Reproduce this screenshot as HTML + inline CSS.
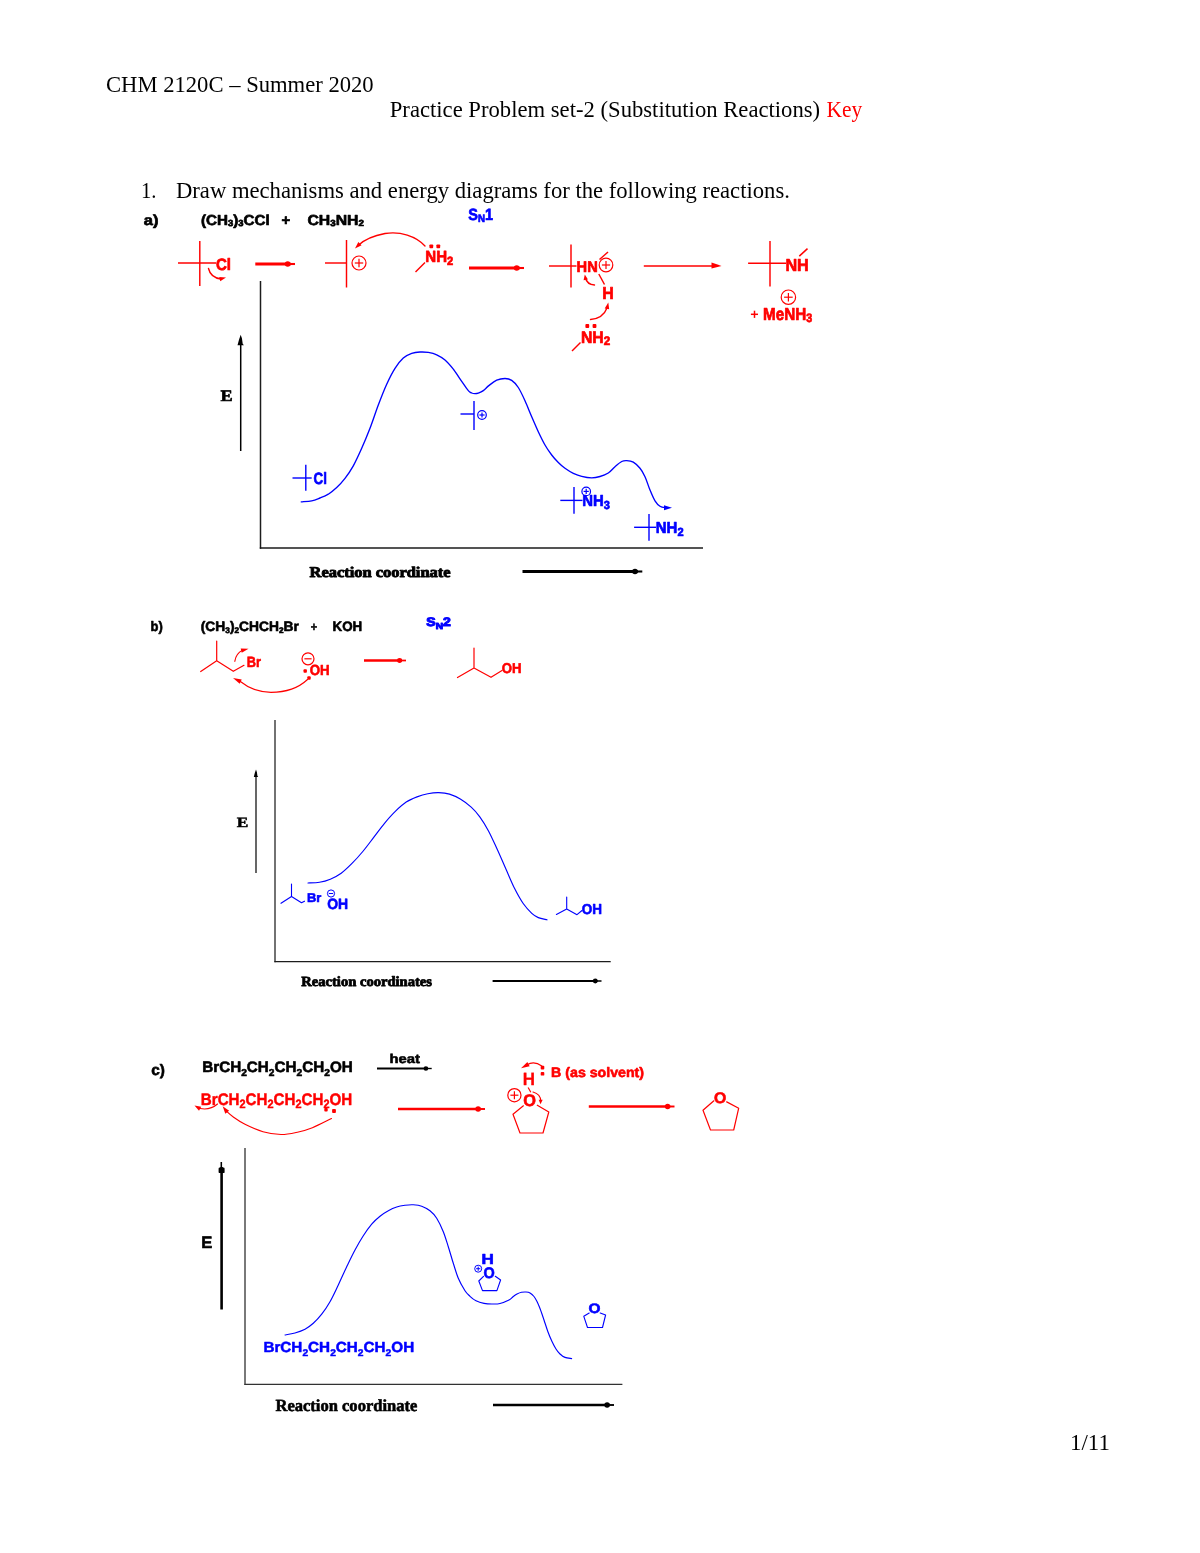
<!DOCTYPE html>
<html><head><meta charset="utf-8"><title>CHM 2120C Practice Problem set-2 Key</title><style>html,body{margin:0;padding:0;background:#fff}body{width:1200px;height:1553px;overflow:hidden}svg{display:block}text{white-space:pre}</style></head><body>
<svg width="1200" height="1553" viewBox="0 0 1200 1553">
<defs><filter id="bl" x="0" y="0" width="100%" height="100%" filterUnits="userSpaceOnUse"><feGaussianBlur stdDeviation="0.45"/></filter></defs>
<rect width="1200" height="1553" fill="#fff"/>
<g id="hdr" opacity="0.999">
<text id="t0" transform="translate(106.01 92.00) scale(0.9925 1)" font-family='"Liberation Serif", serif' font-weight="normal" font-size="22.80" fill="#000000">CHM 2120C – Summer 2020</text>
<text id="t1" transform="translate(389.75 116.50) scale(0.9943 1)" font-family='"Liberation Serif", serif' font-weight="normal" font-size="22.80" fill="#000000">Practice Problem set-2 (Substitution Reactions)</text>
<text id="t2" transform="translate(826.49 116.50) scale(0.9405 1)" font-family='"Liberation Serif", serif' font-weight="normal" font-size="22.80" fill="#ff0000">Key</text>
<text id="t3" transform="translate(140.88 197.50) scale(0.9111 1)" font-family='"Liberation Serif", serif' font-weight="normal" font-size="22.80" fill="#000000">1.</text>
<text id="t4" transform="translate(175.95 197.50) scale(0.9934 1)" font-family='"Liberation Serif", serif' font-weight="normal" font-size="22.80" fill="#000000">Draw mechanisms and energy diagrams for the following reactions.</text>
<text id="t5" transform="translate(1069.99 1449.50) scale(1.0069 1)" font-family='"Liberation Serif", serif' font-weight="normal" font-size="22.80" fill="#000000">1/11</text>
</g>
<g id="dia" filter="url(#bl)">
<line x1="178.0" y1="263.0" x2="216.0" y2="263.0" stroke="#ff0000" stroke-width="1.45" stroke-linecap="butt"/>
<line x1="199.8" y1="241.0" x2="199.8" y2="286.0" stroke="#ff0000" stroke-width="1.45" stroke-linecap="butt"/>
<path d="M208.5 268.5 Q210.5 277.5 221 279" stroke="#ff0000" stroke-width="1.40" fill="none" stroke-linejoin="round" stroke-linecap="round"/>
<path transform="translate(226.0 277.6) rotate(-14.0)" d="M0 0 L-6.5 -2.2 L-6.5 2.2 Z" fill="#ff0000"/>
<line x1="255.3" y1="264.0" x2="290.5" y2="264.0" stroke="#ff0000" stroke-width="2.90" stroke-linecap="butt"/>
<line x1="290.0" y1="264.0" x2="295.0" y2="264.0" stroke="#ff0000" stroke-width="2.09" stroke-linecap="butt"/>
<ellipse cx="287.7" cy="264.0" rx="2.90" ry="2.80" fill="#ff0000"/>
<line x1="325.0" y1="263.0" x2="346.5" y2="263.0" stroke="#ff0000" stroke-width="1.45" stroke-linecap="butt"/>
<line x1="346.5" y1="240.0" x2="346.5" y2="287.5" stroke="#ff0000" stroke-width="1.45" stroke-linecap="butt"/>
<circle cx="359.0" cy="263.0" r="7.0" stroke="#ff0000" stroke-width="1.20" fill="none"/>
<line x1="354.8" y1="263.0" x2="363.2" y2="263.0" stroke="#ff0000" stroke-width="1.20" stroke-linecap="butt"/>
<line x1="359.0" y1="258.8" x2="359.0" y2="267.2" stroke="#ff0000" stroke-width="1.20" stroke-linecap="butt"/>
<path d="M425 246 C416 236 400 231 385 233.5 C374 235.5 364 240 358 245.5" stroke="#ff0000" stroke-width="1.30" fill="none" stroke-linejoin="round" stroke-linecap="round"/>
<path transform="translate(355.0 248.5) rotate(135.0)" d="M0 0 L-7.0 -2.3 L-7.0 2.3 Z" fill="#ff0000"/>
<rect x="429.4" y="244.4" width="3.8" height="3.8" rx="0.9" fill="#ff0000"/>
<rect x="436.4" y="244.4" width="3.8" height="3.8" rx="0.9" fill="#ff0000"/>
<line x1="425.0" y1="262.5" x2="415.5" y2="272.0" stroke="#ff0000" stroke-width="1.45" stroke-linecap="butt"/>
<line x1="469.0" y1="268.0" x2="519.5" y2="268.0" stroke="#ff0000" stroke-width="2.90" stroke-linecap="butt"/>
<line x1="519.0" y1="268.0" x2="524.0" y2="268.0" stroke="#ff0000" stroke-width="2.09" stroke-linecap="butt"/>
<ellipse cx="516.7" cy="268.0" rx="2.90" ry="2.80" fill="#ff0000"/>
<line x1="549.0" y1="266.0" x2="576.5" y2="266.0" stroke="#ff0000" stroke-width="1.45" stroke-linecap="butt"/>
<line x1="571.0" y1="244.5" x2="571.0" y2="287.5" stroke="#ff0000" stroke-width="1.45" stroke-linecap="butt"/>
<circle cx="606.0" cy="265.0" r="6.8" stroke="#ff0000" stroke-width="1.20" fill="none"/>
<line x1="601.9" y1="265.0" x2="610.1" y2="265.0" stroke="#ff0000" stroke-width="1.20" stroke-linecap="butt"/>
<line x1="606.0" y1="260.9" x2="606.0" y2="269.1" stroke="#ff0000" stroke-width="1.20" stroke-linecap="butt"/>
<line x1="599.5" y1="259.5" x2="608.0" y2="252.0" stroke="#ff0000" stroke-width="1.45" stroke-linecap="butt"/>
<line x1="598.8" y1="274.0" x2="604.5" y2="284.5" stroke="#ff0000" stroke-width="1.45" stroke-linecap="butt"/>
<path d="M594.5 285 Q587 284.5 585.5 278" stroke="#ff0000" stroke-width="1.40" fill="none" stroke-linejoin="round" stroke-linecap="round"/>
<path transform="translate(584.8 274.5) rotate(-100.0)" d="M0 0 L-5.5 -2.2 L-5.5 2.2 Z" fill="#ff0000"/>
<path d="M590.5 319.5 Q603 318.5 607 308" stroke="#ff0000" stroke-width="1.40" fill="none" stroke-linejoin="round" stroke-linecap="round"/>
<path transform="translate(608.3 302.5) rotate(-78.0)" d="M0 0 L-6.5 -2.3 L-6.5 2.3 Z" fill="#ff0000"/>
<rect x="585.4" y="324.1" width="3.8" height="3.8" rx="0.9" fill="#ff0000"/>
<rect x="592.6" y="324.1" width="3.8" height="3.8" rx="0.9" fill="#ff0000"/>
<line x1="580.5" y1="342.5" x2="572.0" y2="351.0" stroke="#ff0000" stroke-width="1.45" stroke-linecap="butt"/>
<line x1="643.8" y1="266.0" x2="717.5" y2="266.0" stroke="#ff0000" stroke-width="1.50" stroke-linecap="butt"/>
<path d="M721.5 266.0 L717.5 264.4 L711.5 262.6 L711.5 268.6 Z" fill="#ff0000"/>
<line x1="748.1" y1="263.3" x2="786.0" y2="263.3" stroke="#ff0000" stroke-width="1.45" stroke-linecap="butt"/>
<line x1="770.0" y1="241.1" x2="770.0" y2="286.5" stroke="#ff0000" stroke-width="1.45" stroke-linecap="butt"/>
<line x1="799.3" y1="256.1" x2="807.5" y2="248.6" stroke="#ff0000" stroke-width="1.45" stroke-linecap="butt"/>
<circle cx="788.4" cy="297.2" r="7.2" stroke="#ff0000" stroke-width="1.20" fill="none"/>
<line x1="784.1" y1="297.2" x2="792.7" y2="297.2" stroke="#ff0000" stroke-width="1.20" stroke-linecap="butt"/>
<line x1="788.4" y1="292.9" x2="788.4" y2="301.5" stroke="#ff0000" stroke-width="1.20" stroke-linecap="butt"/>
<line x1="750.9" y1="314.3" x2="758.0" y2="314.3" stroke="#ff0000" stroke-width="1.50" stroke-linecap="butt"/>
<line x1="754.5" y1="310.7" x2="754.5" y2="317.9" stroke="#ff0000" stroke-width="1.50" stroke-linecap="butt"/>
<line x1="260.5" y1="281.0" x2="260.5" y2="548.8" stroke="#1a1a1a" stroke-width="1.50" stroke-linecap="butt"/>
<line x1="259.8" y1="548.0" x2="703.0" y2="548.0" stroke="#1a1a1a" stroke-width="1.50" stroke-linecap="butt"/>
<line x1="240.7" y1="451.0" x2="240.7" y2="337.7" stroke="#000000" stroke-width="1.50" stroke-linecap="butt"/>
<path d="M240.7 334.7 L242.0 338.7 L242.7 343.7 L243.9 345.3 L237.5 345.3 L239.0 339.7 Z" fill="#000000"/>
<line x1="522.5" y1="571.5" x2="637.8" y2="571.5" stroke="#000000" stroke-width="2.90" stroke-linecap="butt"/>
<line x1="637.3" y1="571.5" x2="642.3" y2="571.5" stroke="#000000" stroke-width="2.09" stroke-linecap="butt"/>
<ellipse cx="635.0" cy="571.5" rx="2.90" ry="2.80" fill="#000000"/>
<path d="M301.3 501.9 C303.0 501.7 308.6 501.4 311.7 500.8 C314.8 500.2 317.2 499.1 320.0 498.0 C322.8 496.9 325.5 495.9 328.3 494.2 C331.1 492.4 333.9 490.1 336.7 487.5 C339.5 484.9 342.2 481.9 345.0 478.3 C347.8 474.7 350.5 470.8 353.3 465.8 C356.1 460.8 358.9 454.6 361.7 448.3 C364.5 442.1 367.2 435.5 370.0 428.3 C372.8 421.1 375.5 412.4 378.3 405.0 C381.1 397.6 383.9 390.3 386.7 384.2 C389.5 378.1 392.2 372.7 395.0 368.3 C397.8 363.9 400.5 360.5 403.3 358.0 C406.1 355.5 408.9 354.3 411.7 353.3 C414.5 352.3 417.2 352.1 420.0 352.0 C422.8 351.9 425.5 351.9 428.3 352.4 C431.1 352.9 433.9 353.5 436.7 354.8 C439.5 356.1 442.2 357.6 445.0 360.0 C447.8 362.4 450.5 365.6 453.3 369.2 C456.1 372.8 459.2 377.7 461.7 381.3 C464.2 384.9 466.6 388.7 468.3 390.6 C470.0 392.6 470.6 392.5 471.7 393.0 C472.8 393.5 473.9 393.6 475.0 393.6 C476.1 393.6 476.9 393.6 478.3 393.1 C479.7 392.6 481.6 391.9 483.3 390.6 C485.1 389.4 486.6 387.3 488.8 385.6 C491.0 383.9 494.0 381.4 496.7 380.2 C499.4 379.0 502.5 378.5 505.0 378.5 C507.5 378.5 509.5 378.9 511.7 380.4 C513.9 381.9 516.1 384.1 518.3 387.5 C520.5 390.9 522.8 395.9 525.0 400.8 C527.2 405.7 529.5 411.6 531.7 416.7 C533.9 421.8 536.1 427.0 538.3 431.7 C540.5 436.4 542.8 441.1 545.0 445.0 C547.2 448.9 549.5 452.1 551.7 455.0 C553.9 457.9 556.1 460.3 558.3 462.5 C560.5 464.7 562.5 466.5 565.0 468.3 C567.5 470.1 570.5 472.0 573.3 473.3 C576.1 474.6 578.6 475.6 581.7 476.3 C584.8 477.1 588.7 477.8 591.7 477.8 C594.8 477.8 597.2 477.3 600.0 476.5 C602.8 475.7 605.8 474.6 608.3 473.0 C610.8 471.4 612.8 468.6 615.0 466.7 C617.2 464.8 619.8 462.5 621.7 461.5 C623.7 460.5 624.8 460.5 626.7 460.6 C628.6 460.7 631.1 460.9 633.3 462.2 C635.5 463.5 638.0 465.9 640.0 468.3 C642.0 470.7 643.3 473.1 645.0 476.7 C646.7 480.3 648.3 486.0 650.0 490.0 C651.7 494.0 653.3 498.1 655.0 500.8 C656.7 503.5 658.2 505.1 660.0 506.3 C661.8 507.5 665.0 507.6 666.0 507.8" stroke="#0000ff" stroke-width="1.35" fill="none" stroke-linejoin="round" stroke-linecap="round"/>
<path transform="translate(672.0 507.8) rotate(0.0)" d="M0 0 L-8.0 -2.5 L-8.0 2.5 Z" fill="#0000ff"/>
<line x1="292.5" y1="478.0" x2="311.7" y2="478.0" stroke="#0000ff" stroke-width="1.40" stroke-linecap="butt"/>
<line x1="305.8" y1="464.7" x2="305.8" y2="490.8" stroke="#0000ff" stroke-width="1.40" stroke-linecap="butt"/>
<line x1="460.5" y1="414.0" x2="474.0" y2="414.0" stroke="#0000ff" stroke-width="1.40" stroke-linecap="butt"/>
<line x1="474.0" y1="401.0" x2="474.0" y2="430.0" stroke="#0000ff" stroke-width="1.40" stroke-linecap="butt"/>
<circle cx="482.0" cy="415.0" r="4.3" stroke="#0000ff" stroke-width="1.20" fill="none"/>
<line x1="479.4" y1="415.0" x2="484.6" y2="415.0" stroke="#0000ff" stroke-width="1.20" stroke-linecap="butt"/>
<line x1="482.0" y1="412.4" x2="482.0" y2="417.6" stroke="#0000ff" stroke-width="1.20" stroke-linecap="butt"/>
<line x1="560.3" y1="500.4" x2="582.5" y2="500.4" stroke="#0000ff" stroke-width="1.40" stroke-linecap="butt"/>
<line x1="574.0" y1="487.0" x2="574.0" y2="513.8" stroke="#0000ff" stroke-width="1.40" stroke-linecap="butt"/>
<circle cx="586.2" cy="491.4" r="4.3" stroke="#0000ff" stroke-width="1.20" fill="none"/>
<line x1="583.6" y1="491.4" x2="588.8" y2="491.4" stroke="#0000ff" stroke-width="1.20" stroke-linecap="butt"/>
<line x1="586.2" y1="488.8" x2="586.2" y2="494.0" stroke="#0000ff" stroke-width="1.20" stroke-linecap="butt"/>
<line x1="634.1" y1="527.3" x2="656.0" y2="527.3" stroke="#0000ff" stroke-width="1.40" stroke-linecap="butt"/>
<line x1="649.0" y1="514.0" x2="649.0" y2="540.7" stroke="#0000ff" stroke-width="1.40" stroke-linecap="butt"/>
<path d="M216.7 641 L216.7 660.7 M216.7 660.7 L200.7 671.5 M216.7 660.7 L233.3 671.3 L244 665.3" stroke="#ff0000" stroke-width="1.20" fill="none" stroke-linejoin="round" stroke-linecap="round"/>
<path d="M234.8 661.3 Q236 653.5 242.5 650.3" stroke="#ff0000" stroke-width="1.15" fill="none" stroke-linejoin="round" stroke-linecap="round"/>
<path transform="translate(248.5 648.8) rotate(-14.0)" d="M0 0 L-7.5 -2.2 L-7.5 2.2 Z" fill="#ff0000"/>
<circle cx="308.0" cy="658.8" r="6.0" stroke="#ff0000" stroke-width="1.20" fill="none"/>
<line x1="304.4" y1="658.8" x2="311.6" y2="658.8" stroke="#ff0000" stroke-width="1.20" stroke-linecap="butt"/>
<rect x="303.5" y="669.3" width="3.4" height="3.4" rx="0.9" fill="#ff0000"/>
<rect x="307.3" y="676.3" width="3.4" height="3.4" rx="0.9" fill="#ff0000"/>
<path d="M307.5 679.5 C299 687.5 286 692.3 271 692.3 C260 692.3 249 688.5 240 681.3" stroke="#ff0000" stroke-width="1.15" fill="none" stroke-linejoin="round" stroke-linecap="round"/>
<path transform="translate(233.0 678.0) rotate(-155.0)" d="M0 0 L-8.5 -2.4 L-8.5 2.4 Z" fill="#ff0000"/>
<line x1="364.0" y1="660.5" x2="402.0" y2="660.5" stroke="#ff0000" stroke-width="2.40" stroke-linecap="butt"/>
<line x1="401.6" y1="660.5" x2="406.0" y2="660.5" stroke="#ff0000" stroke-width="1.73" stroke-linecap="butt"/>
<ellipse cx="399.6" cy="660.5" rx="2.55" ry="2.46" fill="#ff0000"/>
<path d="M474 648 L474 668 M474 668 L457.5 677.5 M474 668 L491 677.3 L502 670.5" stroke="#ff0000" stroke-width="1.20" fill="none" stroke-linejoin="round" stroke-linecap="round"/>
<line x1="275.0" y1="720.0" x2="275.0" y2="962.2" stroke="#1a1a1a" stroke-width="1.25" stroke-linecap="butt"/>
<line x1="274.4" y1="961.6" x2="610.7" y2="961.6" stroke="#1a1a1a" stroke-width="1.25" stroke-linecap="butt"/>
<line x1="256.0" y1="873.0" x2="256.0" y2="772.5" stroke="#000000" stroke-width="1.20" stroke-linecap="butt"/>
<path d="M256.0 769.5 L256.9 772.3 L257.4 775.8 L258.2 776.9 L253.8 776.9 L254.8 773.0 Z" fill="#000000"/>
<line x1="492.6" y1="981.0" x2="597.7" y2="981.0" stroke="#000000" stroke-width="2.10" stroke-linecap="butt"/>
<line x1="597.2" y1="981.0" x2="601.5" y2="981.0" stroke="#000000" stroke-width="1.51" stroke-linecap="butt"/>
<ellipse cx="595.3" cy="981.0" rx="2.46" ry="2.38" fill="#000000"/>
<path d="M308.0 883.0 C309.9 882.9 315.8 882.9 319.5 882.3 C323.2 881.7 326.7 880.7 330.3 879.2 C333.9 877.7 337.6 875.8 341.2 873.2 C344.8 870.6 348.4 867.0 352.0 863.4 C355.6 859.8 359.2 855.8 362.8 851.5 C366.4 847.2 370.1 842.1 373.7 837.4 C377.3 832.7 380.9 827.6 384.5 823.3 C388.1 819.0 391.7 814.9 395.3 811.4 C398.9 807.9 402.6 804.5 406.2 802.1 C409.8 799.7 413.4 798.3 417.0 796.9 C420.6 795.5 424.2 794.4 427.8 793.7 C431.4 793.0 435.1 792.5 438.7 792.6 C442.3 792.7 445.9 793.0 449.5 794.1 C453.1 795.2 456.7 796.9 460.3 799.1 C463.9 801.3 467.9 804.2 471.2 807.1 C474.4 810.0 476.9 812.8 479.8 816.8 C482.7 820.8 485.6 825.5 488.5 830.9 C491.4 836.3 494.3 843.0 497.2 849.3 C500.1 855.6 502.9 862.3 505.8 868.8 C508.7 875.3 511.6 882.5 514.5 888.3 C517.4 894.1 520.3 899.3 523.2 903.5 C526.1 907.7 529.3 910.9 531.8 913.3 C534.3 915.6 535.8 916.5 538.3 917.6 C540.8 918.7 545.5 919.4 547.0 919.8" stroke="#0000ff" stroke-width="1.15" fill="none" stroke-linejoin="round" stroke-linecap="round"/>
<path d="M291.5 884 L291.5 896.5 M291.5 896.5 L281 903.3 M291.5 896.5 L301.5 902.8 L304.5 901.2" stroke="#0000ff" stroke-width="1.10" fill="none" stroke-linejoin="round" stroke-linecap="round"/>
<circle cx="331.0" cy="893.5" r="3.6" stroke="#0000ff" stroke-width="1.00" fill="none"/>
<line x1="328.8" y1="893.5" x2="333.2" y2="893.5" stroke="#0000ff" stroke-width="1.00" stroke-linecap="butt"/>
<path d="M566.7 897 L566.7 909 M566.7 909 L556.4 914.5 M566.7 909 L577 914.7 L582 910.5" stroke="#0000ff" stroke-width="1.10" fill="none" stroke-linejoin="round" stroke-linecap="round"/>
<line x1="377.0" y1="1068.5" x2="428.1" y2="1068.5" stroke="#000000" stroke-width="1.90" stroke-linecap="butt"/>
<line x1="427.7" y1="1068.5" x2="431.7" y2="1068.5" stroke="#000000" stroke-width="1.37" stroke-linecap="butt"/>
<ellipse cx="425.9" cy="1068.5" rx="2.32" ry="2.24" fill="#000000"/>
<rect x="324.3" y="1108.1" width="3.4" height="3.4" rx="0.9" fill="#ff0000"/>
<rect x="332.1" y="1109.1" width="3.8" height="3.8" rx="0.9" fill="#ff0000"/>
<path d="M217.5 1104 Q210 1110.5 200 1108.5" stroke="#ff0000" stroke-width="1.15" fill="none" stroke-linejoin="round" stroke-linecap="round"/>
<path transform="translate(194.5 1105.5) rotate(-150.0)" d="M0 0 L-6.5 -2.2 L-6.5 2.2 Z" fill="#ff0000"/>
<path d="M331.5 1118.5 C328.3 1120.0 318.1 1125.4 312.4 1127.7 C306.7 1130.0 302.6 1131.1 297.4 1132.2 C292.2 1133.3 286.7 1134.6 281.0 1134.5 C275.3 1134.4 269.0 1133.4 263.0 1131.7 C257.0 1130.0 250.0 1126.8 245.0 1124.3 C240.0 1121.8 236.1 1119.0 233.0 1116.8 C229.9 1114.6 227.6 1112.2 226.5 1111.3" stroke="#ff0000" stroke-width="1.15" fill="none" stroke-linejoin="round" stroke-linecap="round"/>
<path transform="translate(222.7 1106.3) rotate(-127.0)" d="M0 0 L-7.5 -2.4 L-7.5 2.4 Z" fill="#ff0000"/>
<line x1="398.0" y1="1109.0" x2="480.7" y2="1109.0" stroke="#ff0000" stroke-width="2.70" stroke-linecap="butt"/>
<line x1="480.2" y1="1109.0" x2="485.0" y2="1109.0" stroke="#ff0000" stroke-width="1.94" stroke-linecap="butt"/>
<ellipse cx="478.1" cy="1109.0" rx="2.75" ry="2.66" fill="#ff0000"/>
<circle cx="514.4" cy="1095.2" r="6.6" stroke="#ff0000" stroke-width="1.20" fill="none"/>
<line x1="510.4" y1="1095.2" x2="518.4" y2="1095.2" stroke="#ff0000" stroke-width="1.20" stroke-linecap="butt"/>
<line x1="514.4" y1="1091.3" x2="514.4" y2="1099.2" stroke="#ff0000" stroke-width="1.20" stroke-linecap="butt"/>
<line x1="528.1" y1="1087.5" x2="530.8" y2="1092.2" stroke="#ff0000" stroke-width="1.20" stroke-linecap="butt"/>
<path d="M523.4 1105.8 L513 1114.2 L520 1133 L543 1133 L548.8 1112 L537.3 1105.2" stroke="#ff0000" stroke-width="1.20" fill="none" stroke-linejoin="round" stroke-linecap="round"/>
<path d="M533 1092 Q540.5 1094 540.8 1101" stroke="#ff0000" stroke-width="1.15" fill="none" stroke-linejoin="round" stroke-linecap="round"/>
<path transform="translate(540.5 1104.3) rotate(92.0)" d="M0 0 L-4.5 -2.0 L-4.5 2.0 Z" fill="#ff0000"/>
<rect x="540.7" y="1065.8" width="3.6" height="3.6" rx="0.9" fill="#ff0000"/>
<rect x="540.7" y="1072.0" width="3.6" height="3.6" rx="0.9" fill="#ff0000"/>
<path d="M541.8 1066 Q534 1060.3 527 1064.8" stroke="#ff0000" stroke-width="1.15" fill="none" stroke-linejoin="round" stroke-linecap="round"/>
<path transform="translate(521.0 1068.2) rotate(152.0)" d="M0 0 L-8.5 -2.4 L-8.5 2.4 Z" fill="#ff0000"/>
<line x1="588.8" y1="1106.5" x2="670.2" y2="1106.5" stroke="#ff0000" stroke-width="2.70" stroke-linecap="butt"/>
<line x1="669.8" y1="1106.5" x2="674.5" y2="1106.5" stroke="#ff0000" stroke-width="1.94" stroke-linecap="butt"/>
<ellipse cx="667.6" cy="1106.5" rx="2.75" ry="2.66" fill="#ff0000"/>
<path d="M713.9 1100.8 L703 1110.2 L710.5 1130 L733.7 1130 L738.7 1108.2 L726.7 1101.9" stroke="#ff0000" stroke-width="1.20" fill="none" stroke-linejoin="round" stroke-linecap="round"/>
<line x1="245.0" y1="1148.0" x2="245.0" y2="1385.0" stroke="#333" stroke-width="1.30" stroke-linecap="butt"/>
<line x1="244.4" y1="1384.3" x2="622.4" y2="1384.3" stroke="#333" stroke-width="1.30" stroke-linecap="butt"/>
<line x1="221.6" y1="1309.5" x2="221.6" y2="1167.0" stroke="#000000" stroke-width="2.60" stroke-linecap="butt"/>
<line x1="221.3" y1="1168.0" x2="221.3" y2="1162.0" stroke="#000000" stroke-width="1.56" stroke-linecap="butt"/>
<rect x="218.6" y="1167.5" width="6" height="5.6" rx="1.2" fill="#000000"/>
<line x1="493.0" y1="1405.0" x2="609.7" y2="1405.0" stroke="#000000" stroke-width="2.60" stroke-linecap="butt"/>
<line x1="609.2" y1="1405.0" x2="614.0" y2="1405.0" stroke="#000000" stroke-width="1.87" stroke-linecap="butt"/>
<ellipse cx="607.1" cy="1405.0" rx="2.75" ry="2.66" fill="#000000"/>
<path d="M285.0 1335.0 C286.7 1334.7 291.7 1334.0 295.0 1333.0 C298.3 1332.0 301.9 1330.8 305.0 1329.2 C308.1 1327.6 310.5 1325.8 313.3 1323.3 C316.1 1320.8 318.9 1317.8 321.7 1314.2 C324.5 1310.6 327.2 1306.6 330.0 1301.7 C332.8 1296.8 335.5 1290.8 338.3 1285.0 C341.1 1279.2 343.9 1272.5 346.7 1266.7 C349.5 1260.9 352.2 1255.2 355.0 1250.0 C357.8 1244.8 360.5 1240.1 363.3 1235.8 C366.1 1231.5 368.9 1227.5 371.7 1224.2 C374.5 1221.0 377.2 1218.5 380.0 1216.3 C382.8 1214.1 385.5 1212.3 388.3 1210.8 C391.1 1209.2 393.9 1207.9 396.7 1207.0 C399.5 1206.1 402.2 1205.7 405.0 1205.3 C407.8 1204.9 410.5 1204.6 413.3 1204.8 C416.1 1205.0 418.9 1205.2 421.7 1206.2 C424.5 1207.2 427.5 1208.8 430.0 1210.8 C432.5 1212.8 434.5 1214.8 436.7 1218.3 C438.9 1221.8 441.4 1227.0 443.3 1231.7 C445.2 1236.4 446.6 1241.4 448.3 1246.7 C450.0 1252.0 451.6 1258.0 453.3 1263.3 C455.0 1268.6 456.4 1273.7 458.3 1278.3 C460.2 1282.9 463.1 1287.8 465.0 1290.8 C466.9 1293.8 468.2 1294.6 470.0 1296.3 C471.8 1298.0 473.7 1299.6 476.0 1300.8 C478.3 1302.0 481.3 1302.9 484.0 1303.4 C486.7 1303.9 489.3 1304.0 492.0 1304.0 C494.7 1304.0 497.2 1304.2 500.0 1303.5 C502.8 1302.8 506.8 1301.1 509.0 1300.0 C511.2 1298.9 511.7 1297.7 513.0 1296.7 C514.3 1295.7 515.6 1294.7 517.0 1294.0 C518.4 1293.3 520.0 1292.6 521.5 1292.3 C523.0 1292.0 524.6 1291.9 526.0 1292.0 C527.4 1292.1 528.7 1292.2 530.0 1293.0 C531.3 1293.8 532.8 1295.1 534.0 1296.5 C535.2 1297.9 536.0 1299.5 537.0 1301.5 C538.0 1303.5 538.8 1305.4 540.0 1308.5 C541.2 1311.6 542.7 1316.1 544.0 1320.0 C545.3 1323.9 546.7 1328.4 548.0 1332.0 C549.3 1335.6 550.7 1338.7 552.0 1341.5 C553.3 1344.3 554.7 1346.9 556.0 1349.0 C557.3 1351.1 558.5 1352.6 560.0 1354.0 C561.5 1355.4 563.1 1356.6 565.0 1357.4 C566.9 1358.2 570.5 1358.4 571.6 1358.6" stroke="#0000ff" stroke-width="1.15" fill="none" stroke-linejoin="round" stroke-linecap="round"/>
<circle cx="478.2" cy="1268.7" r="3.5" stroke="#0000ff" stroke-width="1.00" fill="none"/>
<line x1="476.1" y1="1268.7" x2="480.3" y2="1268.7" stroke="#0000ff" stroke-width="1.00" stroke-linecap="butt"/>
<line x1="478.2" y1="1266.6" x2="478.2" y2="1270.8" stroke="#0000ff" stroke-width="1.00" stroke-linecap="butt"/>
<path d="M483.5 1276.3 L478.8 1281 L482.5 1290.6 L496.9 1290.6 L500.6 1280 L495.3 1276.3" stroke="#0000ff" stroke-width="1.10" fill="none" stroke-linejoin="round" stroke-linecap="round"/>
<path d="M589.2 1313 L583.8 1316.3 L587.5 1327.5 L602.5 1327.5 L605.6 1315 L600.2 1313" stroke="#0000ff" stroke-width="1.10" fill="none" stroke-linejoin="round" stroke-linecap="round"/>
<text id="t6" transform="translate(143.75 224.85) scale(1.1440 1)" font-family='"Liberation Sans", sans-serif' font-weight="bold" font-size="14.39" fill="#000000" stroke="#000000" stroke-width="0.70" stroke-linejoin="round" text-rendering="geometricPrecision">a)</text>
<text id="t7" transform="translate(200.94 224.85) scale(1.0553 1)" font-family='"Liberation Sans", sans-serif' font-weight="bold" font-size="14.39" fill="#000000" stroke="#000000" stroke-width="0.70" stroke-linejoin="round" text-rendering="geometricPrecision">(CH<tspan dy="1.44" font-size="8.92">3</tspan><tspan dy="-1.44">)</tspan><tspan dy="1.44" font-size="8.92">3</tspan><tspan dy="-1.44">CCl</tspan></text>
<text id="t8" transform="translate(281.54 224.85) scale(1.0375 1)" font-family='"Liberation Sans", sans-serif' font-weight="bold" font-size="14.39" fill="#000000" stroke="#000000" stroke-width="0.70" stroke-linejoin="round" text-rendering="geometricPrecision">+</text>
<text id="t9" transform="translate(307.43 224.85) scale(1.0966 1)" font-family='"Liberation Sans", sans-serif' font-weight="bold" font-size="14.39" fill="#000000" stroke="#000000" stroke-width="0.70" stroke-linejoin="round" text-rendering="geometricPrecision">CH<tspan dy="1.44" font-size="8.92">3</tspan><tspan dy="-1.44">NH</tspan><tspan dy="1.44" font-size="8.92">2</tspan></text>
<text id="t10" transform="translate(468.28 219.65) scale(0.8909 1)" font-family='"Liberation Sans", sans-serif' font-weight="bold" font-size="16.28" fill="#0000ff" stroke="#0000ff" stroke-width="0.70" stroke-linejoin="round" text-rendering="geometricPrecision">S<tspan dy="2.44" font-size="10.91">N</tspan><tspan dy="-2.44">1</tspan></text>
<text id="t11" transform="translate(215.97 270.45) scale(0.9180 1)" font-family='"Liberation Sans", sans-serif' font-weight="bold" font-size="16.42" fill="#ff0000" stroke="#ff0000" stroke-width="0.70" stroke-linejoin="round" text-rendering="geometricPrecision">Cl</text>
<text id="t12" transform="translate(425.30 262.40) scale(0.9397 1)" font-family='"Liberation Sans", sans-serif' font-weight="bold" font-size="16.06" fill="#ff0000" stroke="#ff0000" stroke-width="0.70" stroke-linejoin="round" text-rendering="geometricPrecision">NH<tspan dy="2.57" font-size="11.89">2</tspan></text>
<text id="t13" transform="translate(576.58 271.65) scale(0.9542 1)" font-family='"Liberation Sans", sans-serif' font-weight="bold" font-size="15.33" fill="#ff0000" stroke="#ff0000" stroke-width="0.70" stroke-linejoin="round" text-rendering="geometricPrecision">HN</text>
<text id="t14" transform="translate(602.20 298.85) scale(0.9302 1)" font-family='"Liberation Sans", sans-serif' font-weight="bold" font-size="17.15" fill="#ff0000" stroke="#ff0000" stroke-width="0.70" stroke-linejoin="round" text-rendering="geometricPrecision">H</text>
<text id="t15" transform="translate(580.99 342.65) scale(0.9513 1)" font-family='"Liberation Sans", sans-serif' font-weight="bold" font-size="16.57" fill="#ff0000" stroke="#ff0000" stroke-width="0.70" stroke-linejoin="round" text-rendering="geometricPrecision">NH<tspan dy="2.65" font-size="12.26">2</tspan></text>
<text id="t16" transform="translate(785.40 270.75) scale(0.9277 1)" font-family='"Liberation Sans", sans-serif' font-weight="bold" font-size="17.44" fill="#ff0000" stroke="#ff0000" stroke-width="0.70" stroke-linejoin="round" text-rendering="geometricPrecision">NH</text>
<text id="t17" transform="translate(762.94 320.25) scale(0.8760 1)" font-family='"Liberation Sans", sans-serif' font-weight="bold" font-size="17.44" fill="#ff0000" stroke="#ff0000" stroke-width="0.70" stroke-linejoin="round" text-rendering="geometricPrecision">MeNH<tspan dy="2.09" font-size="12.21">3</tspan></text>
<text id="t18" transform="translate(220.50 400.70) scale(1.1500 1)" font-family='"Liberation Serif", serif' font-weight="bold" font-size="15.88" fill="#000000" stroke="#000000" stroke-width="0.60" stroke-linejoin="round" text-rendering="geometricPrecision">E</text>
<text id="t19" transform="translate(309.57 576.55) scale(1.0983 1)" font-family='"Liberation Serif", serif' font-weight="bold" font-size="14.96" fill="#000000" stroke="#000000" stroke-width="0.90" stroke-linejoin="round" text-rendering="geometricPrecision">Reaction coordinate</text>
<text id="t20" transform="translate(313.50 483.65) scale(0.8129 1)" font-family='"Liberation Sans", sans-serif' font-weight="bold" font-size="16.42" fill="#0000ff" stroke="#0000ff" stroke-width="0.70" stroke-linejoin="round" text-rendering="geometricPrecision">Cl</text>
<text id="t21" transform="translate(582.29 506.45) scale(0.9404 1)" font-family='"Liberation Sans", sans-serif' font-weight="bold" font-size="15.84" fill="#0000ff" stroke="#0000ff" stroke-width="0.70" stroke-linejoin="round" text-rendering="geometricPrecision">NH<tspan dy="2.85" font-size="11.72">3</tspan></text>
<text id="t22" transform="translate(655.80 533.35) scale(0.9357 1)" font-family='"Liberation Sans", sans-serif' font-weight="bold" font-size="15.99" fill="#0000ff" stroke="#0000ff" stroke-width="0.70" stroke-linejoin="round" text-rendering="geometricPrecision">NH<tspan dy="2.72" font-size="11.83">2</tspan></text>
<text id="t23" transform="translate(150.53 631.00) scale(0.9500 1)" font-family='"Liberation Sans", sans-serif' font-weight="bold" font-size="13.66" fill="#000000" stroke="#000000" stroke-width="0.60" stroke-linejoin="round" text-rendering="geometricPrecision">b)</text>
<text id="t24" transform="translate(200.75 630.70) scale(1.0103 1)" font-family='"Liberation Sans", sans-serif' font-weight="bold" font-size="13.66" fill="#000000" stroke="#000000" stroke-width="0.60" stroke-linejoin="round" text-rendering="geometricPrecision">(CH<tspan dy="2.73" font-size="8.20">3</tspan><tspan dy="-2.73">)</tspan><tspan dy="2.73" font-size="8.20">2</tspan><tspan dy="-2.73">CHCH</tspan><tspan dy="2.73" font-size="8.20">2</tspan><tspan dy="-2.73">Br</tspan></text>
<text id="t25" transform="translate(310.78 630.75) scale(0.8889 1)" font-family='"Liberation Sans", sans-serif' font-weight="bold" font-size="12.35" fill="#000000" stroke="#000000" stroke-width="0.50" stroke-linejoin="round" text-rendering="geometricPrecision">+</text>
<text id="t26" transform="translate(332.51 630.70) scale(0.9778 1)" font-family='"Liberation Sans", sans-serif' font-weight="bold" font-size="13.66" fill="#000000" stroke="#000000" stroke-width="0.60" stroke-linejoin="round" text-rendering="geometricPrecision">KOH</text>
<text id="t27" transform="translate(426.25 626.25) scale(1.1395 1)" font-family='"Liberation Sans", sans-serif' font-weight="bold" font-size="12.35" fill="#0000ff" stroke="#0000ff" stroke-width="1.00" stroke-linejoin="round" text-rendering="geometricPrecision">S<tspan dy="3.09" font-size="8.90">N</tspan><tspan dy="-3.09">2</tspan></text>
<text id="t28" transform="translate(246.75 667.30) scale(0.8635 1)" font-family='"Liberation Sans", sans-serif' font-weight="bold" font-size="14.83" fill="#ff0000" stroke="#ff0000" stroke-width="0.60" stroke-linejoin="round" text-rendering="geometricPrecision">Br</text>
<text id="t29" transform="translate(309.77 675.20) scale(0.9157 1)" font-family='"Liberation Sans", sans-serif' font-weight="bold" font-size="14.53" fill="#ff0000" stroke="#ff0000" stroke-width="0.60" stroke-linejoin="round" text-rendering="geometricPrecision">OH</text>
<text id="t30" transform="translate(501.77 673.00) scale(0.9268 1)" font-family='"Liberation Sans", sans-serif' font-weight="bold" font-size="14.24" fill="#ff0000" stroke="#ff0000" stroke-width="0.60" stroke-linejoin="round" text-rendering="geometricPrecision">OH</text>
<text id="t31" transform="translate(236.70 827.35) scale(1.2222 1)" font-family='"Liberation Serif", serif' font-weight="bold" font-size="14.20" fill="#000000" stroke="#000000" stroke-width="0.50" stroke-linejoin="round" text-rendering="geometricPrecision">E</text>
<text id="t32" transform="translate(301.26 986.30) scale(1.0376 1)" font-family='"Liberation Serif", serif' font-weight="bold" font-size="14.05" fill="#000000" stroke="#000000" stroke-width="0.80" stroke-linejoin="round" text-rendering="geometricPrecision">Reaction coordinates</text>
<text id="t33" transform="translate(306.99 901.50) scale(1.0182 1)" font-family='"Liberation Sans", sans-serif' font-weight="bold" font-size="12.65" fill="#0000ff" stroke="#0000ff" stroke-width="0.60" stroke-linejoin="round" text-rendering="geometricPrecision">Br</text>
<text id="t34" transform="translate(327.26 908.70) scale(0.9412 1)" font-family='"Liberation Sans", sans-serif' font-weight="bold" font-size="14.83" fill="#0000ff" stroke="#0000ff" stroke-width="0.60" stroke-linejoin="round" text-rendering="geometricPrecision">OH</text>
<text id="t35" transform="translate(581.77 914.30) scale(0.9398 1)" font-family='"Liberation Sans", sans-serif' font-weight="bold" font-size="14.39" fill="#0000ff" stroke="#0000ff" stroke-width="0.60" stroke-linejoin="round" text-rendering="geometricPrecision">OH</text>
<text id="t36" transform="translate(151.25 1075.10) scale(1.0196 1)" font-family='"Liberation Sans", sans-serif' font-weight="bold" font-size="15.12" fill="#000000" stroke="#000000" stroke-width="0.60" stroke-linejoin="round" text-rendering="geometricPrecision">c)</text>
<text id="t37" transform="translate(202.24 1072.40) scale(1.0081 1)" font-family='"Liberation Sans", sans-serif' font-weight="bold" font-size="15.12" fill="#000000" stroke="#000000" stroke-width="0.60" stroke-linejoin="round" text-rendering="geometricPrecision">BrCH<tspan dy="3.78" font-size="10.13">2</tspan><tspan dy="-3.78">CH</tspan><tspan dy="3.78" font-size="10.13">2</tspan><tspan dy="-3.78">CH</tspan><tspan dy="3.78" font-size="10.13">2</tspan><tspan dy="-3.78">CH</tspan><tspan dy="3.78" font-size="10.13">2</tspan><tspan dy="-3.78">OH</tspan></text>
<text id="t38" transform="translate(389.42 1062.72) scale(1.1650 1)" font-family='"Liberation Sans", sans-serif' font-weight="bold" font-size="12.72" fill="#000000" stroke="#000000" stroke-width="0.55" stroke-linejoin="round" text-rendering="geometricPrecision">heat</text>
<text id="t39" transform="translate(200.80 1104.78) scale(0.9032 1)" font-family='"Liberation Sans", sans-serif' font-weight="bold" font-size="16.79" fill="#ff0000" stroke="#ff0000" stroke-width="0.45" stroke-linejoin="round" text-rendering="geometricPrecision">BrCH<tspan dy="2.85" font-size="12.09">2</tspan><tspan dy="-2.85">CH</tspan><tspan dy="2.85" font-size="12.09">2</tspan><tspan dy="-2.85">CH</tspan><tspan dy="2.85" font-size="12.09">2</tspan><tspan dy="-2.85">CH</tspan><tspan dy="2.85" font-size="12.09">2</tspan><tspan dy="-2.85">OH</tspan></text>
<text id="t40" transform="translate(522.80 1085.45) scale(0.9535 1)" font-family='"Liberation Sans", sans-serif' font-weight="bold" font-size="17.73" fill="#ff0000" stroke="#ff0000" stroke-width="0.30" stroke-linejoin="round" text-rendering="geometricPrecision">H</text>
<text id="t41" transform="translate(523.27 1106.40) scale(0.9673 1)" font-family='"Liberation Sans", sans-serif' font-weight="bold" font-size="16.86" fill="#ff0000" stroke="#ff0000" stroke-width="0.60" stroke-linejoin="round" text-rendering="geometricPrecision">O</text>
<text id="t42" transform="translate(551.12 1076.60) scale(1.0379 1)" font-family='"Liberation Sans", sans-serif' font-weight="bold" font-size="13.66" fill="#ff0000" stroke="#ff0000" stroke-width="0.60" stroke-linejoin="round" text-rendering="geometricPrecision">B (as solvent)</text>
<text id="t43" transform="translate(714.04 1103.20) scale(1.0222 1)" font-family='"Liberation Sans", sans-serif' font-weight="bold" font-size="15.41" fill="#ff0000" stroke="#ff0000" stroke-width="0.60" stroke-linejoin="round" text-rendering="geometricPrecision">O</text>
<text id="t44" transform="translate(201.25 1247.70) scale(1.0000 1)" font-family='"Liberation Sans", sans-serif' font-weight="bold" font-size="16.57" fill="#000000" stroke="#000000" stroke-width="0.60" stroke-linejoin="round" text-rendering="geometricPrecision">E</text>
<text id="t45" transform="translate(275.50 1410.90) scale(0.9756 1)" font-family='"Liberation Serif", serif' font-weight="bold" font-size="16.95" fill="#000000" stroke="#000000" stroke-width="0.60" stroke-linejoin="round" text-rendering="geometricPrecision">Reaction coordinate</text>
<text id="t46" transform="translate(263.41 1351.95) scale(1.0507 1)" font-family='"Liberation Sans", sans-serif' font-weight="bold" font-size="14.53" fill="#0000ff" stroke="#0000ff" stroke-width="0.50" stroke-linejoin="round" text-rendering="geometricPrecision">BrCH<tspan dy="3.63" font-size="9.74">2</tspan><tspan dy="-3.63">CH</tspan><tspan dy="3.63" font-size="9.74">2</tspan><tspan dy="-3.63">CH</tspan><tspan dy="3.63" font-size="9.74">2</tspan><tspan dy="-3.63">CH</tspan><tspan dy="3.63" font-size="9.74">2</tspan><tspan dy="-3.63">OH</tspan></text>
<text id="t47" transform="translate(481.62 1264.10) scale(1.1778 1)" font-family='"Liberation Sans", sans-serif' font-weight="bold" font-size="14.53" fill="#0000ff" stroke="#0000ff" stroke-width="0.60" stroke-linejoin="round" text-rendering="geometricPrecision">H</text>
<text id="t48" transform="translate(483.51 1278.20) scale(0.9467 1)" font-family='"Liberation Sans", sans-serif' font-weight="bold" font-size="15.26" fill="#0000ff" stroke="#0000ff" stroke-width="0.60" stroke-linejoin="round" text-rendering="geometricPrecision">O</text>
<text id="t49" transform="translate(588.47 1313.20) scale(1.1250 1)" font-family='"Liberation Sans", sans-serif' font-weight="bold" font-size="13.66" fill="#0000ff" stroke="#0000ff" stroke-width="0.60" stroke-linejoin="round" text-rendering="geometricPrecision">O</text>
</g>
</svg></body></html>
